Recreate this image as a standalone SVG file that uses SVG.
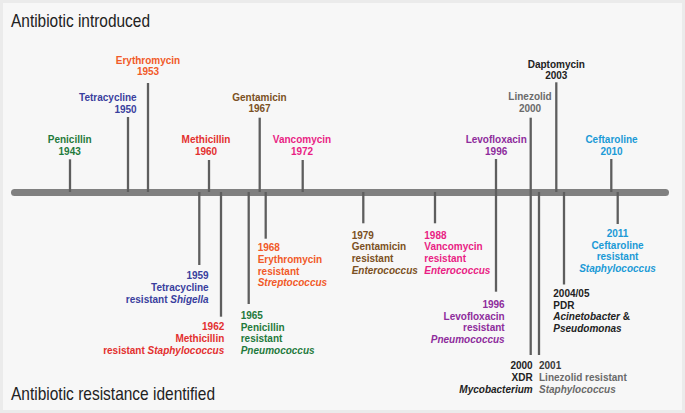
<svg xmlns="http://www.w3.org/2000/svg" width="685" height="413" viewBox="0 0 685 413">
<style>
.t{font-family:"Liberation Sans",Arial,sans-serif;font-weight:bold;font-size:10px}
.m{text-anchor:middle}.e{text-anchor:end}
.i{font-style:italic}
.h{font-family:"Liberation Sans",Arial,sans-serif;font-size:19px;fill:#222}
.ln{stroke:#5e5e5e;stroke-width:2.3;fill:none}
.green{fill:#1f7a3c}.blue{fill:#3a3f9e}.orange{fill:#f15a29}.red{fill:#e3302f}
.brown{fill:#7b5023}.pink{fill:#e91e84}.purple{fill:#8e2c9c}.gray{fill:#6a6a6a}
.black{fill:#222}.cyan{fill:#1b9ad6}
</style>
<rect width="685" height="413" fill="#ebebeb"/>
<rect x="3" y="3" width="679" height="407" fill="#f7f7f7"/>
<text class="h" x="11" y="27" textLength="139" lengthAdjust="spacingAndGlyphs">Antibiotic introduced</text>
<text class="h" x="11" y="400" textLength="204" lengthAdjust="spacingAndGlyphs">Antibiotic resistance identified</text>
<g id="connectors">
<rect x="11" y="189" width="658" height="7" rx="3.5" fill="#808080"/>
<line class="ln" x1="70" y1="159.3" x2="70" y2="192"/>
<line class="ln" x1="128" y1="117" x2="128" y2="192"/>
<line class="ln" x1="148" y1="83" x2="148" y2="192"/>
<line class="ln" x1="209" y1="160" x2="209" y2="192"/>
<line class="ln" x1="259.7" y1="117.7" x2="259.7" y2="192"/>
<line class="ln" x1="302.7" y1="160" x2="302.7" y2="192"/>
<line class="ln" x1="496" y1="159" x2="496" y2="291.7"/>
<line class="ln" x1="530.7" y1="117.7" x2="530.7" y2="355"/>
<line class="ln" x1="556.3" y1="82.3" x2="556.3" y2="192"/>
<line class="ln" x1="611.3" y1="159" x2="611.3" y2="192"/>
<line class="ln" x1="199.3" y1="192" x2="199.3" y2="265"/>
<line class="ln" x1="221" y1="192" x2="221" y2="316.7"/>
<line class="ln" x1="248.7" y1="192" x2="248.7" y2="304"/>
<line class="ln" x1="265.7" y1="192" x2="265.7" y2="238.7"/>
<line class="ln" x1="363.3" y1="192" x2="363.3" y2="223.3"/>
<line class="ln" x1="435" y1="192" x2="435" y2="223.3"/>
<line class="ln" x1="539" y1="192" x2="539" y2="355"/>
<line class="ln" x1="564" y1="192" x2="564" y2="284.5"/>
<line class="ln" x1="617.7" y1="192" x2="617.7" y2="224"/>
</g>
<g id="penicillin"><text class="t m green" x="69.7" y="143">Penicillin</text><text class="t m green" x="69.7" y="154.6">1943</text></g>
<g id="tetracycline"><text class="t e blue" x="136.7" y="101.3">Tetracycline</text><text class="t e blue" x="136.7" y="112.6">1950</text></g>
<g id="erythromycin"><text class="t m orange" x="148" y="64">Erythromycin</text><text class="t m orange" x="148" y="75.3">1953</text></g>
<g id="methicillin"><text class="t m red" x="206" y="143">Methicillin</text><text class="t m red" x="206" y="154.6">1960</text></g>
<g id="gentamicin"><text class="t m brown" x="259.5" y="100.6">Gentamicin</text><text class="t m brown" x="259.5" y="112.3">1967</text></g>
<g id="vancomycin"><text class="t m pink" x="302" y="143">Vancomycin</text><text class="t m pink" x="302" y="154.6">1972</text></g>
<g id="levofloxacin"><text class="t m purple" x="496.2" y="143.3">Levofloxacin</text><text class="t m purple" x="496.2" y="154.6">1996</text></g>
<g id="linezolid"><text class="t m gray" x="530" y="100.3">Linezolid</text><text class="t m gray" x="530" y="112.3">2000</text></g>
<g id="daptomycin"><text class="t m black" x="556.3" y="67.6">Daptomycin</text><text class="t m black" x="556.3" y="79">2003</text></g>
<g id="ceftaroline"><text class="t m cyan" x="611.5" y="143.3">Ceftaroline</text><text class="t m cyan" x="611.5" y="154.6">2010</text></g>
<g id="r1959" class="t e blue"><text x="208.7" y="279.3">1959</text><text x="208.7" y="290.9">Tetracycline</text><text x="208.7" y="302.6">resistant <tspan class="i">Shigella</tspan></text></g>
<g id="r1962" class="t e red"><text x="224.3" y="330.3">1962</text><text x="224.3" y="342">Methicillin</text><text x="224.3" y="353.6">resistant <tspan class="i">Staphylococcus</tspan></text></g>
<g id="r1965" class="t green"><text x="240.7" y="319">1965</text><text x="240.7" y="330.6">Penicillin</text><text x="240.7" y="342.3">resistant</text><text class="i" x="240.7" y="353.8">Pneumococcus</text></g>
<g id="r1968" class="t orange"><text x="257.7" y="251.3">1968</text><text x="257.7" y="263">Erythromycin</text><text x="257.7" y="274.7">resistant</text><text class="i" x="257.7" y="286.4">Streptococcus</text></g>
<g id="r1979" class="t brown"><text x="351.7" y="238.6">1979</text><text x="351.7" y="250.3">Gentamicin</text><text x="351.7" y="262">resistant</text><text class="i" x="351.7" y="273.7">Enterococcus</text></g>
<g id="r1988" class="t pink"><text x="424.3" y="238.6">1988</text><text x="424.3" y="250.3">Vancomycin</text><text x="424.3" y="262">resistant</text><text class="i" x="424.3" y="273.7">Enterococcus</text></g>
<g id="r1996" class="t e purple"><text x="504.7" y="308">1996</text><text x="504.7" y="319.6">Levofloxacin</text><text x="504.7" y="331.3">resistant</text><text class="i" x="504.7" y="343">Pneumococcus</text></g>
<g id="r2000" class="t e black"><text x="532.7" y="369.3">2000</text><text x="532.7" y="381">XDR</text><text class="i" x="532.7" y="392.6">Mycobacterium</text></g>
<g id="r2001" class="t gray"><text x="539" y="369.3" fill="#3a3a3a">2001</text><text x="539" y="381">Linezolid resistant</text><text class="i" x="539" y="392.6">Staphylococcus</text></g>
<g id="r2004" class="t black"><text x="553.3" y="297">2004/05</text><text x="553.3" y="308.6">PDR</text><text x="553.3" y="320.3"><tspan class="i">Acinetobacter</tspan> &amp;</text><text class="i" x="553.3" y="332">Pseudomonas</text></g>
<g id="r2011" class="t m cyan"><text x="617.5" y="237.3">2011</text><text x="617.5" y="248.6">Ceftaroline</text><text x="617.5" y="260.3">resistant</text><text class="i" x="617.5" y="271.6">Staphylococcus</text></g>
</svg>
